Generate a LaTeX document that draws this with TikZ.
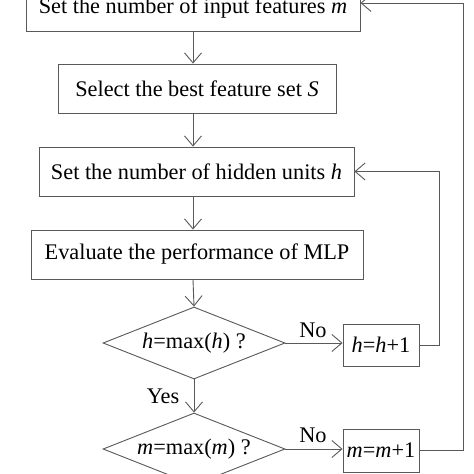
\documentclass[tikz,border=0pt]{standalone}
\usepackage{fontspec}
\setmainfont{Liberation Serif}
\usetikzlibrary{shapes.geometric,arrows.meta}
\begin{document}
\begin{tikzpicture}[x=1pt,y=-1pt,
  every node/.style={font=\fontsize{22.3}{25}\selectfont},
  box/.style={draw=black!65,line width=0.9pt,inner sep=0pt},
  dia/.style={draw=black!65,line width=0.9pt,diamond,aspect=2.53,inner sep=0pt,minimum width=182pt,minimum height=72pt},
  conn/.style={draw=black!65,line width=0.9pt},
  arr/.style={conn,-{Straight Barb[length=10pt,width=17pt,line width=0.9pt]}}]
\useasboundingbox (0,0) rectangle (474,474);
\clip (0,0) rectangle (474,474);
\fill[white] (0,0) rectangle (474,474);
\node[box,minimum width=334pt,minimum height=45pt] (b1) at (193,8.5) {Set the number of input features \textit{m}};
\node[box,minimum width=278pt,minimum height=49pt] (b2) at (197,88.5) {Select the best feature set \textit{S}};
\node[box,minimum width=315pt,minimum height=49pt] (b3) at (196.5,171.5) {Set the number of hidden units \textit{h}};
\node[box,minimum width=332pt,minimum height=49pt] (b4) at (197,254.5) {Evaluate the performance of MLP};
\node[dia] (d1) at (194,343) {\textit{h}=max(\textit{h}) ?};
\node[box,minimum width=76pt,minimum height=42pt] (h1) at (381,345) {\textit{h}=\textit{h}+1};
\node[dia] (d2) at (194,449) {\textit{m}=max(\textit{m}) ?};
\node[box,minimum width=76pt,minimum height=43pt] (m1) at (381,450.5) {\textit{m}=\textit{m}+1};
\coordinate (c1) at (193,31);
\draw[arr] (c1) -- (c1 |- b2.north);
\draw[arr] (c1 |- b2.south) -- (c1 |- b3.north);
\draw[arr] (c1 |- b3.south) -- (c1 |- b4.north);
\draw[arr] (c1 |- b4.south) -- (d1.north);
\draw[arr] (d1.south) -- (d2.north);
\draw[arr] (d1.east) -- (d1.east -| h1.west);
\draw[arr] (d2.east) -- (d2.east -| m1.west);
\coordinate (rh) at (439,345);
\draw[arr] (h1.east) -- (rh) |- (b3.east);
\coordinate (rm) at (463,450.5);
\coordinate (tm) at (463,3);
\draw[conn] (m1.east) -- (rm) -- (tm);
\draw[arr] (tm) -- (tm -| b1.east);
\node (no1) at (313,330) {No};
\node (no2) at (313,435) {No};
\node (yes) at (163,396) {Yes};
\end{tikzpicture}
\end{document}
